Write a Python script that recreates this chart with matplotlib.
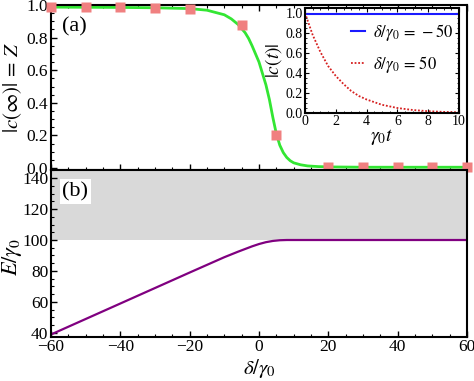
import numpy as np
import matplotlib
matplotlib.use("Agg")
import matplotlib.pyplot as plt
from matplotlib.ticker import MultipleLocator

plt.rcParams['font.family'] = ['Liberation Serif', 'DejaVu Serif']
plt.rcParams['mathtext.fontset'] = 'stix'

# panel (a): |c(inf)| = Z versus delta/gamma0
delta_curve = [-60, -50, -40, -30, -20, -15, -10, -8, -6, -4, -3, -2, -1, 0,
               1, 2, 3, 4, 5, 6, 7, 8, 9, 10, 12, 14, 17, 20, 30, 40, 50, 60]
z_curve = [0.987, 0.986, 0.985, 0.983, 0.978, 0.968, 0.94, 0.915, 0.88, 0.83,
           0.795, 0.75, 0.70, 0.65, 0.58, 0.51, 0.42, 0.31, 0.21, 0.14,
           0.095, 0.065, 0.045, 0.032, 0.02, 0.013, 0.009, 0.007, 0.005,
           0.005, 0.005, 0.005]
delta_marks = [-60, -50, -40, -30, -20, -5, 5, 20, 30, 40, 50, 60]
z_marks = [0.987, 0.986, 0.985, 0.983, 0.978, 0.877, 0.20, 0.007, 0.005,
           0.005, 0.005, 0.005]

# inset: |c(t)| versus gamma0 t
t_inset = [0, 0.5, 1, 1.5, 2, 2.5, 3, 3.5, 4, 5, 6, 7, 8, 9, 10]
c_minus50 = [0.99] * len(t_inset)
c_plus50 = [1.0, 0.78, 0.61, 0.47, 0.37, 0.29, 0.22, 0.17, 0.135, 0.082,
            0.05, 0.03, 0.018, 0.011, 0.007]

# panel (b): E/gamma0 versus delta/gamma0
delta_e = [-60, -50, -40, -30, -20, -10, -6, -4, -2, 0, 2, 4, 6, 8, 20, 40, 60]
e_vals = [39, 49, 59, 69, 79, 88.9, 92.5, 94.2, 95.9, 97.4, 98.6, 99.4,
          99.85, 100, 100, 100, 100]
band_bottom = 100

W, H = 474, 381
fig = plt.figure(figsize=(W / 100, H / 100), dpi=100)

def box(x0, y0, x1, y1):
    # pixel box -> figure fraction rect
    return [x0 / W, 1 - y1 / H, (x1 - x0) / W, (y1 - y0) / H]

ax1 = fig.add_axes(box(51, 5, 467, 170))
ax2 = fig.add_axes(box(51, 170, 467, 336.5))
axin = fig.add_axes(box(305, 8, 459, 113))

green = '#33e633'
salmon = '#f08080'

# ---- panel (a)
ax1.plot(delta_curve, z_curve, color=green, lw=2, zorder=2, clip_on=False)
ax1.plot(delta_marks, z_marks, 's', color=salmon, ms=7, mec='none',
         zorder=3, clip_on=False)
ax1.set_xlim(-60, 60)
ax1.set_ylim(-0.012, 1.0)
ax1.xaxis.set_major_locator(MultipleLocator(20))
ax1.xaxis.set_minor_locator(MultipleLocator(5))
ax1.yaxis.set_minor_locator(MultipleLocator(0.05))
ax1.set_yticks([0, 0.2, 0.4, 0.6, 0.8, 1.0])
ax1.set_yticklabels(['0.0', '0.2', '0.4', '0.6', '0.8', '1.0'])
ax1.tick_params(axis='x', labelbottom=False)
ax1.set_ylabel(r'$|c(\infty)|\,=\,Z$', fontsize=15)
ax1.yaxis.set_label_coords(-0.064, 0.5)
ax1.text(0.027, 0.87, '(a)', transform=ax1.transAxes, fontsize=16,
         va='center', ha='left')

# ---- panel (b)
ax2.axhspan(band_bottom, 200, color='#d9d9d9', lw=0, zorder=0)
ax2.plot(delta_e, e_vals, color='#800080', lw=1.6, zorder=2)
ax2.set_xlim(-60, 60)
ax2.set_ylim(37.7, 145.2)
ax2.xaxis.set_major_locator(MultipleLocator(20))
ax2.xaxis.set_minor_locator(MultipleLocator(5))
ax2.yaxis.set_major_locator(MultipleLocator(20))
ax2.yaxis.set_minor_locator(MultipleLocator(5))
ax2.set_xlabel(r'$\delta/\gamma_0$', fontsize=15, labelpad=1)
ax2.set_ylabel(r'$E/\gamma_0$', fontsize=16)
ax2.yaxis.set_label_coords(-0.064, 0.48)
ax2.text(0.027, 0.87, '(b)', transform=ax2.transAxes, fontsize=16,
         va='center', ha='left',
         bbox=dict(facecolor='white', edgecolor='none', pad=2))

for ax in (ax1, ax2):
    for s in ax.spines.values():
        s.set_linewidth(1.5)
    ax.tick_params(which='both', direction='in', top=True, right=False,
                   labelsize=12.5, pad=2)
    ax.tick_params(which='major', length=4, width=1)
    ax.tick_params(which='minor', length=2, width=0.8)
ax2.tick_params(which='both', top=False)

# ---- inset
axin.plot(t_inset, c_minus50, color='#1a1aff', lw=1.5,
          label=r'$\delta/\gamma_0\,=\,-50$')
axin.plot(t_inset, c_plus50, color='#d62020', lw=1.3, ls=(0, (1, 1)),
          label=r'$\delta/\gamma_0\,=\,50$')
axin.set_xlim(0, 10)
axin.set_ylim(0, 1.05)
axin.xaxis.set_major_locator(MultipleLocator(2))
axin.xaxis.set_minor_locator(MultipleLocator(0.5))
axin.set_yticks([0, 0.2, 0.4, 0.6, 0.8, 1.0])
axin.set_yticklabels(['0.0', '0.2', '0.4', '0.6', '0.8', '1.0'])
axin.yaxis.set_minor_locator(MultipleLocator(0.05))
for s in axin.spines.values():
    s.set_linewidth(1.5)
axin.tick_params(which='both', direction='in', top=True, right=True,
                 labelsize=10, pad=1.5)
axin.tick_params(which='major', length=3, width=0.8)
axin.tick_params(which='minor', length=1.5, width=0.6)
axin.set_xlabel(r'$\gamma_0 t$', fontsize=14, labelpad=-1)
axin.set_ylabel(r'$|c(t)|$', fontsize=14, labelpad=1)
axin.legend(loc='upper left', bbox_to_anchor=(0.3, 0.87), frameon=False,
            fontsize=12, handlelength=0.8, handletextpad=0.5,
            labelspacing=0.7, borderaxespad=0, borderpad=0)

fig.savefig('out.png', dpi=100)
